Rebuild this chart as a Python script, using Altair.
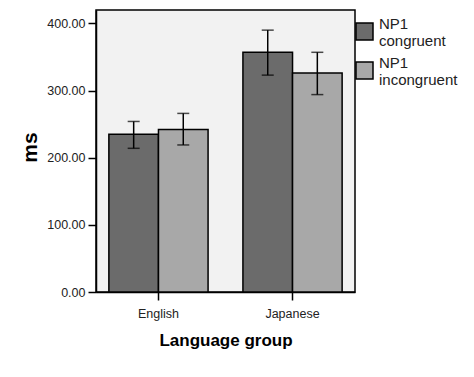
import altair as alt
import pandas as pd

groups = ["English", "English", "Japanese", "Japanese"]
conditions = ["NP1\ncongruent", "NP1\nincongruent", "NP1\ncongruent", "NP1\nincongruent"]
means = [235, 242, 357, 326]
lower = [214, 219, 323, 294]
upper = [254, 266, 390, 357]

df = pd.DataFrame({"group": groups, "cond": conditions, "mean": means,
                   "lo": lower, "hi": upper})

cond_order = ["NP1\ncongruent", "NP1\nincongruent"]

x = alt.X("group:N", title="Language group", sort=["English", "Japanese"],
          scale=alt.Scale(paddingInner=0.26, paddingOuter=0.096),
          axis=alt.Axis(labelAngle=0, tickSize=8, labelPadding=7, labelFontSize=12.5,
                        labelFont="Liberation Sans", titleFont="Liberation Sans",
                        titleFontSize=17, titleFontWeight="bold", titlePadding=13,
                        domainColor="black", tickColor="black", domainWidth=1.5,
                        tickWidth=1.5, labelColor="#222"))
xo = alt.XOffset("cond:N", sort=cond_order, scale=alt.Scale(paddingInner=0, paddingOuter=0))
yscale = alt.Scale(domain=[0, 420], nice=False)

bars = alt.Chart(df).mark_bar(stroke="black", strokeWidth=1.5).encode(
    x=x, xOffset=xo,
    y=alt.Y("mean:Q", title="ms", scale=yscale,
            axis=alt.Axis(values=[0, 100, 200, 300, 400], format=".2f", tickSize=8,
                          labelPadding=3, labelFontSize=12.5, labelFont="Liberation Sans",
                          titleFont="Liberation Sans", titleFontSize=21,
                          titleFontWeight="bold", titleX=-66, titleY=137,
                          titleBaseline="middle",
                          grid=False, domainColor="black", tickColor="black",
                          domainWidth=1.5, tickWidth=1.5, labelColor="#222")),
    color=alt.Color("cond:N", sort=cond_order,
                    scale=alt.Scale(domain=cond_order, range=["#6b6b6b", "#a8a8a8"]),
                    legend=alt.Legend(title=None, orient="none", legendX=259, legendY=12,
                                      symbolType="square", symbolSize=289,
                                      symbolStrokeColor="black", symbolStrokeWidth=1.5,
                                      labelFontSize=15, labelFont="Liberation Sans",
                                      labelExpr="split(datum.label, '\\n')",
                                      labelBaseline="bottom",
                                      labelLimit=200, rowPadding=6, padding=0,
                                      symbolOffset=0, labelOffset=5, labelColor="#222")),
)

rules = alt.Chart(df).mark_rule(color="black", strokeWidth=1.5).encode(
    x=alt.X("group:N", sort=["English", "Japanese"]), xOffset=xo,
    y=alt.Y("lo:Q", scale=yscale), y2="hi:Q")

caps_lo = alt.Chart(df).mark_tick(color="black", size=12, thickness=1.5).encode(
    x=alt.X("group:N", sort=["English", "Japanese"]), xOffset=xo,
    y=alt.Y("lo:Q", scale=yscale))
caps_hi = alt.Chart(df).mark_tick(color="black", size=12, thickness=1.5).encode(
    x=alt.X("group:N", sort=["English", "Japanese"]), xOffset=xo,
    y=alt.Y("hi:Q", scale=yscale))

chart = alt.layer(bars, rules, caps_lo, caps_hi).properties(
    width=259, height=282, background="white",
    autosize=alt.AutoSizeParams(type="none"),
    padding={"left": 88, "top": 2, "right": 111, "bottom": 69},
).configure_view(fill="#f2f2f2", stroke="black", strokeWidth=1.5)

chart.save("out.html", embed_options={"renderer": "svg", "actions": False})
